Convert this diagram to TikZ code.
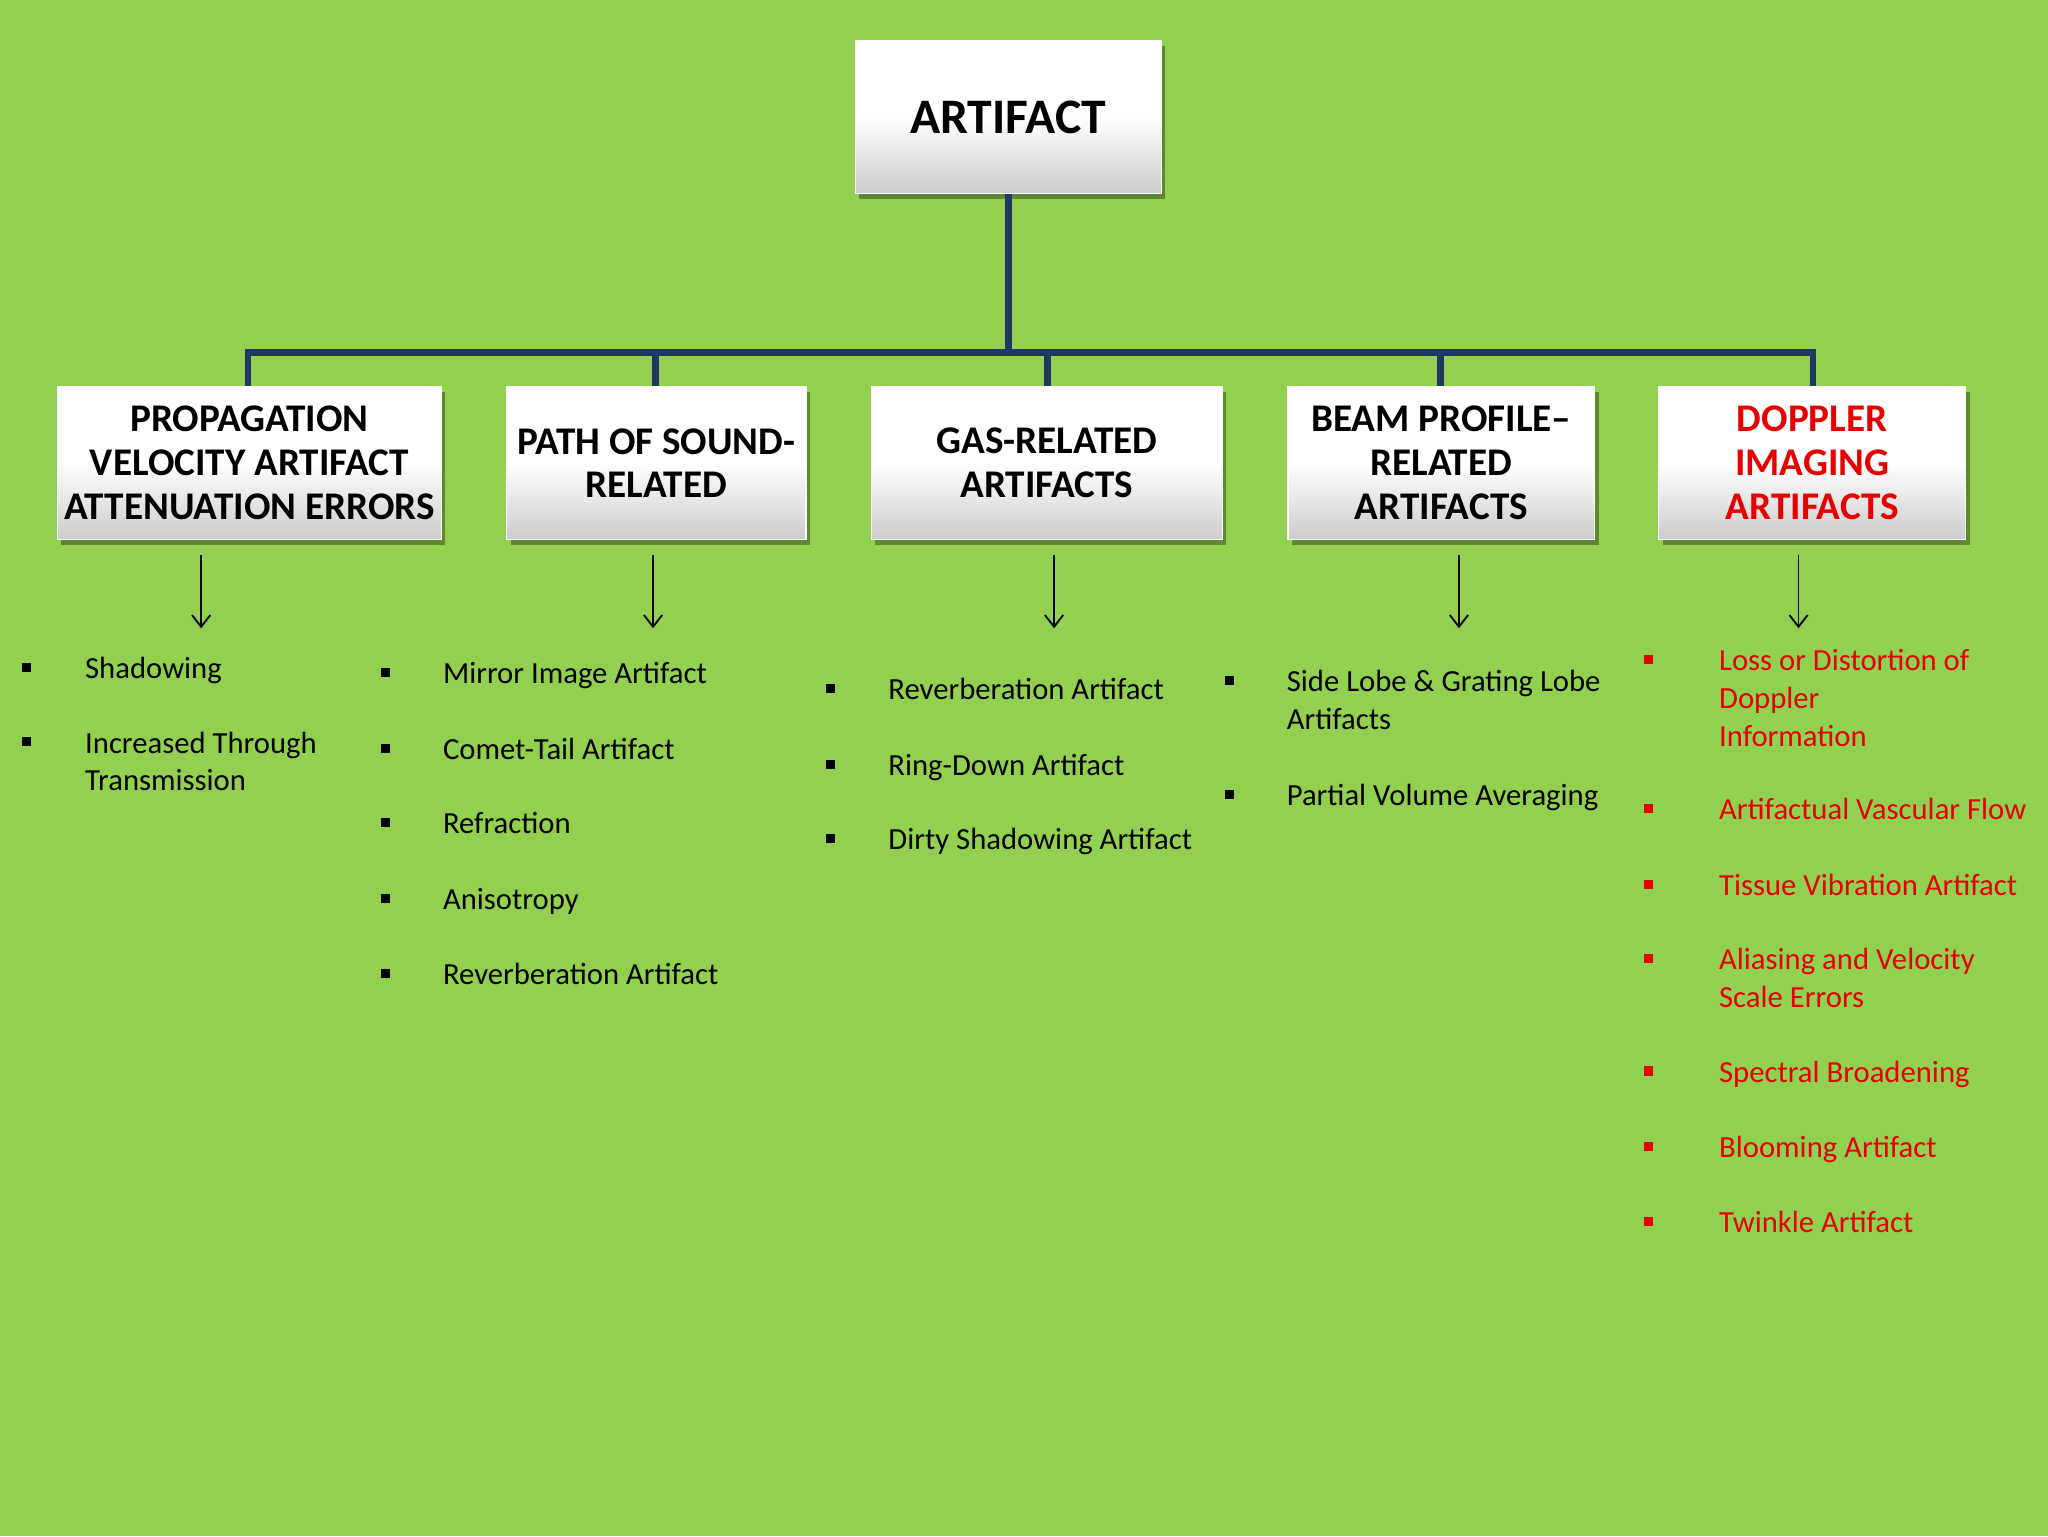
\documentclass[tikz,border=0pt]{standalone}
\usepackage{fontspec}
\setmainfont{Carlito}
\usetikzlibrary{shadows,arrows.meta}
\definecolor{bg}{RGB}{146,208,80}
\definecolor{navy}{RGB}{31,56,100}
\definecolor{dred}{RGB}{230,0,0}
\begin{document}
\begin{tikzpicture}[x=1pt,y=1pt,
  box/.style={rectangle,draw=white,line width=1pt,top color=white,bottom color=gray!40,middle color=white,
     drop shadow={shadow xshift=3pt,shadow yshift=-4pt,fill=black,opacity=0.35},
     font=\fontsize{30}{33.5}\selectfont\bfseries,align=center,inner sep=0pt},
  conn/.style={navy,line width=5pt},
  arr/.style={-{Straight Barb[length=9pt,width=14pt]},line width=1.4pt,black},
  item/.style={anchor=north west,inner sep=0pt,align=left,font=\fontsize{23.5}{29}\selectfont},
  bul/.style={fill=black,minimum size=7pt,inner sep=0pt,rectangle}]
\fill[bg] (0,0) rectangle (1568,-1176);
\useasboundingbox (0,0) rectangle (1568,-1176);
\node[box,minimum width=234pt,minimum height=117pt,font=\fontsize{38}{42}\selectfont\bfseries] (top) at (772,-89.5) {ARTIFACT};
\node[box,minimum width=294pt,minimum height=117pt] (b1) at (191,-354.5) {PROPAGATION\\VELOCITY ARTIFACT\\ATTENUATION ERRORS};
\node[box,minimum width=229pt,minimum height=117pt] (b2) at (502.5,-354.5) {PATH OF SOUND-\\RELATED};
\node[box,minimum width=269pt,minimum height=117pt] (b3) at (801.5,-354.5) {GAS-RELATED\\ARTIFACTS};
\node[box,minimum width=235pt,minimum height=117pt] (b4) at (1103.5,-354.5) {BEAM PROFILE--\\RELATED\\ARTIFACTS};
\node[box,minimum width=235pt,minimum height=117pt,text=dred] (b5) at (1387.5,-354.5) {DOPPLER\\IMAGING\\ARTIFACTS};
\coordinate (j) at (772,-270);
\draw[conn] (top.south) -- (j);
\draw[conn,line cap=rect] (190,-270) -- (1388,-270);
\foreach \n/\x in {b1/190,b2/502,b3/802,b4/1103,b5/1388}{\draw[conn] (\x,-270) -- (\n.north -| \x,0);}
\foreach \n/\x in {b1/154,b2/500,b3/807,b4/1117,b5/1377}{
  \coordinate (s\n) at (\x,-425); \coordinate (e\n) at (\x,-481);
  \draw[arr] (s\n) -- (e\n);}
\foreach \y/\t in {511/Shadowing,568/{Increased Through\\Transmission}}{
  \node[bul] at (20,-\y) {}; \node[item] at (65,-\y+8) {\t};}
\foreach \y/\t in {515/Mirror Image Artifact,573/Comet-Tail Artifact,630/Refraction,688/Anisotropy,745/Reverberation Artifact}{
  \node[bul] at (295,-\y) {}; \node[item] at (339,-\y+8) {\t};}
\foreach \y/\t in {527/Reverberation Artifact,585/Ring-Down Artifact,642/Dirty Shadowing Artifact}{
  \node[bul] at (636,-\y) {}; \node[item] at (680,-\y+8) {\t};}
\foreach \y/\t in {521/{Side Lobe \& Grating Lobe\\Artifacts},608/Partial Volume Averaging}{
  \node[bul] at (941,-\y) {}; \node[item] at (985,-\y+8) {\t};}
\foreach \y/\t in {505/{Loss or Distortion of\\Doppler\\Information},619/Artifactual Vascular Flow,677/Tissue Vibration Artifact,734/{Aliasing and Velocity\\Scale Errors},820/Spectral Broadening,878/Blooming Artifact,935/Twinkle Artifact}{
  \node[bul,fill=dred] at (1262,-\y) {}; \node[item,text=dred] at (1316,-\y+8) {\t};}
\end{tikzpicture}
\end{document}
